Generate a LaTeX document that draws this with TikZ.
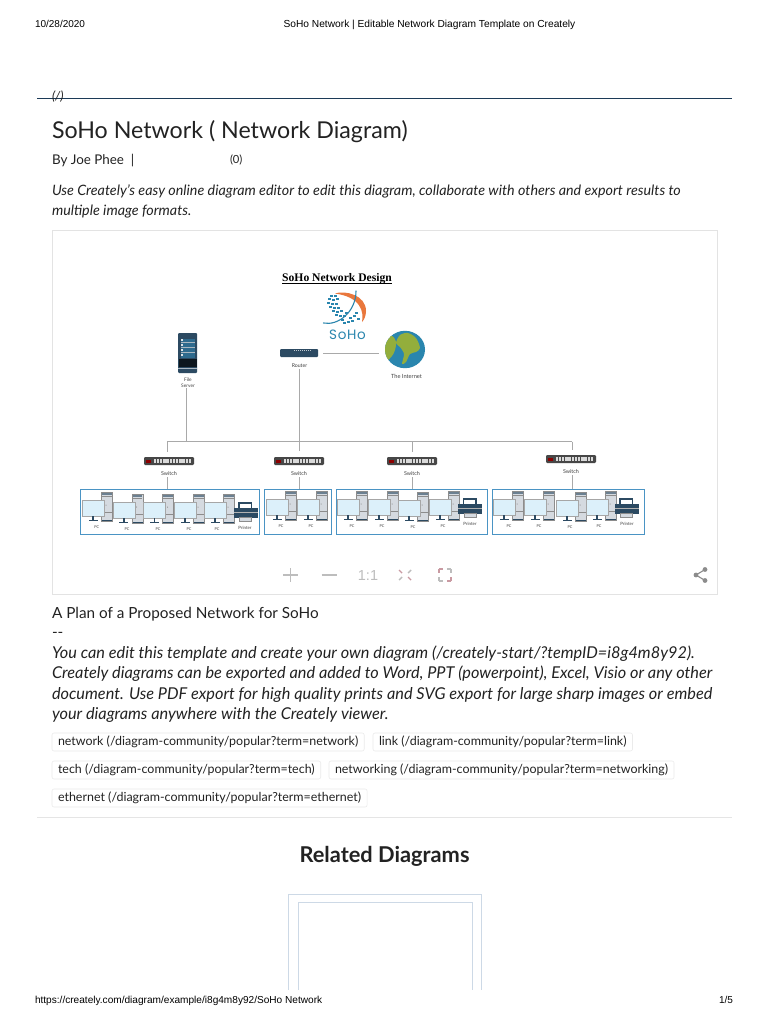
\documentclass[tikz,border=0pt]{standalone}
\usepackage{fontspec}
\setmainfont{Lato}
\newfontfamily\arialfont{Liberation Sans}
\newfontfamily\timesfont{Liberation Serif}
\newfontfamily\logofont{Poppins}
\newcommand{\fs}[1]{\fontsize{#1}{#1}\selectfont}
\definecolor{rulenavy}{HTML}{1C3A57}
\definecolor{framegray}{HTML}{E3E3E3}
\definecolor{linegray}{HTML}{A9A9A9}
\definecolor{boxblue}{HTML}{4A94C4}
\definecolor{screen}{HTML}{DCF0FA}
\definecolor{towergray}{HTML}{D5DAE0}
\definecolor{darkslate}{HTML}{2C4A62}
\definecolor{panelblue}{HTML}{2F6B8E}
\definecolor{toolgray}{HTML}{BDBDBD}
\definecolor{toolred}{HTML}{C99AA2}
\definecolor{relblue}{HTML}{CDD9E6}
\definecolor{textdark}{HTML}{222222}
\definecolor{logoblue}{HTML}{2A86AE}
\definecolor{logoorange}{HTML}{E9773C}
\definecolor{landgreen}{HTML}{93AE3C}
\tikzset{
  every node/.style={inner sep=0pt,outer sep=0pt,text=textdark},
  txt/.style={anchor=base west,align=left},
  hdr/.style={anchor=base,font=\arialfont\fs{10.2},text=black},
  tiny/.style={anchor=base,font=\fs{3.8},text=black!75},
  wire/.style={draw=linegray,line width=0.7pt},
  groupbox/.style={draw=boxblue,line width=0.8pt,fill=white,anchor=north west},
  tagbox/.style={draw=black!8,line width=0.6pt,rounded corners=2pt,anchor=west,minimum height=18pt,font=\fs{12.45},text=textdark,inner xsep=6pt},
  pcunit/.pic={
    \fill[towergray] (19,-8) rectangle (30,21);
    \fill[darkslate!70] (19.5,-7.5) rectangle (29.5,-5.5);
    \fill[black!45] (19.5,-4.5) rectangle (29.5,-3);
    \fill[darkslate] (19,19.5) rectangle (30,21);
    \draw[black!45,line width=0.3pt] (19,12) -- (30,12);
    \draw[black!45,line width=0.3pt] (19,-8) rectangle (30,21);
    \fill[black!55] (24,5) circle (0.5);
    \fill[screen] (0,0) rectangle (22,16);
    \draw[black!35,line width=0.3pt] (0,0) rectangle (22,16);
    \fill[darkslate] (10.2,16) rectangle (11.8,19.5);
    \fill[darkslate] (6.5,19.5) rectangle (15.5,20.5);
  },
  printerunit/.pic={
    \draw[darkslate,line width=1.1pt] (5.5,6) -- (5.5,1) -- (18,1) -- (18,6);
    \fill[darkslate] (0,6) rectangle (24,16);
    \fill[black!30] (0,10) rectangle (24,10.6);
    \draw[black!45,line width=0.4pt,fill=towergray] (6,15.5) rectangle (18,19);
  },
  switchunit/.pic={
    \fill[black!72,rounded corners=1.2pt] (0,0) rectangle (50,8);
    \fill[red!55!black] (1.5,2.5) rectangle (7,5.5);
    \foreach \i in {0,...,11}{\fill[white!85!black] (9.5+\i*3.2,1.8) rectangle (11.9+\i*3.2,6.2);}
  },
}
\begin{document}
\begin{tikzpicture}[x=1pt,y=-1pt]
\useasboundingbox (0,0) rectangle (768,1024);
\fill[white] (0,0) rectangle (768,1024);

% browser header and footer
\node[anchor=base west,font=\arialfont\fs{10},text=black] (date) at (35,27.5) {10/28/2020};
\node[hdr] (pagetitle) at (429.5,27.5) {SoHo Network | Editable Network Diagram Template on Creately};
\node[anchor=base west,font=\arialfont\fs{10.1},text=black] (url) at (35,1003.5) {https://creately.com/diagram/example/i8g4m8y92/SoHo Network};
\node[anchor=base east,font=\arialfont\fs{10},text=black] (pageno) at (733,1003.5) {1/5};

% top of page
\draw[rulenavy,line width=0.8pt] (37,98.5) -- (732,98.5);
\node[txt,font=\itshape\fs{12.5}] (home) at (52,101) {(/)};
\node[txt,font=\fs{23.2}] (title) at (52,139) {SoHo Network ( Network Diagram)};
\node[txt,font=\fs{13.4}] (byline) at (52,165) {By Joe Phee\ \ |};
\node[txt,font=\fs{11.2}] (zero) at (230,164) {(0)};
\node[txt,font=\itshape\fs{14.3}] (introa) at (52,196) {Use Creately’s easy online diagram editor to edit this diagram, collaborate with others and export results to};
\node[txt,font=\itshape\fs{14.3}] (introb) at (52,215) {multiple image formats.};

% viewer frame
\draw[framegray,line width=0.8pt] (52.5,230) rectangle (717,594);

% diagram title
\node[anchor=base,font=\timesfont\bfseries\fs{11.6},text=black] (dtitle) at (337,281) {SoHo Network Design};
\draw[black,line width=0.6pt] (282,283) -- (392,283);

% logo
\fill[logoorange] (335,293.5) .. controls (345,290) and (366,295) .. (366,311) .. controls (366,316) and (364,320) .. (362,322) .. controls (364,312) and (361,297) .. (335,293.5);
\draw[logoblue,line width=1.1pt,line cap=round] (323.5,323) .. controls (338,326) and (356,312) .. (356,291);
\foreach \x/\y in {331/296,335/296,329/299,333/300,337/299,328/303,332/304,336/304,330/307,334/308,338/308,333/311,337/312,341/311,336/315,340/316,344/316,342/320,346/313,350/318,354/316,358/319,352/321,348/322,356/313,344/323}{
  \fill[logoblue] (\x-1.5,\y-1.4) rectangle (\x+1.5,\y+1.4);
}
\node[anchor=base,font=\logofont\fs{13.5},text=logoblue] (logotext) at (347.5,339) {S\kern0.8pt o\kern0.6pt H\kern0.6pt o};

% file server
\node[fill=darkslate,rounded corners=1pt,minimum width=19pt,minimum height=40pt,anchor=north west] (server) at (178,333) {};
\fill[panelblue] (180.5,338.5) rectangle (194.5,358);
\foreach \y in {342.5,347.5,352.5}{\draw[white!60!darkslate,line width=0.4pt] (180.5,\y) -- (194.5,\y);}
\foreach \y in {340,345,350,355}{\fill[white!85!darkslate] (180.8,\y-0.8) rectangle (182.8,\y+0.8);}
\fill[black!70!darkslate] (178.5,359) rectangle (196.5,367);
\fill[white!60!darkslate] (178,367.5) rectangle (197,368.5);
\node[tiny,font=\fs{4.8}] (serverlabela) at (187.8,381) {File};
\node[tiny,font=\fs{4.8}] (serverlabelb) at (188,387) {Server};

% router
\node[fill=darkslate,rounded corners=1pt,minimum width=38pt,minimum height=8pt,anchor=north west] (router) at (280,349) {};
\foreach \i in {0,...,8}{\fill[white!70!darkslate] (294+\i*2,350) rectangle (295+\i*2,351.2);}
\node[tiny,font=\fs{5.2}] (routerlabel) at (299.5,367.3) {Router};

% globe
\begin{scope}
\path[fill=logoblue] (405,349.5) ellipse (20 and 18.7);
\clip (405,349.5) ellipse (20 and 18.7);
\fill[landgreen] plot[smooth cycle] coordinates {(384,340) (392,336) (396,342) (395,350) (392,356) (386,360)};
\fill[landgreen] plot[smooth cycle] coordinates {(400,335) (408,333) (416,338) (420,348) (416,352) (410,354) (406,362) (402,364) (404,354) (400,347) (396,343)};
\end{scope}
\node[tiny,font=\fs{5.7}] (netlabel) at (406.5,378) {The Internet};

% connector anchors
\coordinate (routerout) at (323,353.5);
\coordinate (netin) at (379,353.5);
\coordinate (busl) at (167,441.5);
\coordinate (busr) at (572,441.5);
\coordinate (busserver) at (186.5,441.5);
\coordinate (busrouter) at (299.5,441.5);
\coordinate (bus3) at (412.7,441.5);
\coordinate (drop1) at (167,452);
\coordinate (drop2) at (299.5,451);
\coordinate (drop3) at (412.7,452);
\coordinate (drop4) at (572,450);

\draw[wire] (routerout) -- (netin);
\draw[wire] (routerlabel.south -| busrouter) ++(0,2) -- (busrouter);
\draw[wire] (serverlabelb.south -| busserver) ++(0,1) -- (busserver);
\draw[wire] (busl) -- (busr);
\draw[wire] (busl) -- (drop1);
\draw[wire] (busrouter) -- (drop2);
\draw[wire] (bus3) -- (drop3);
\draw[wire] (busr) -- (drop4);

% switches
\foreach \n/\x/\y/\lx in {1/144/457/169,2/274/457/299,3/387/457/412,4/546/455/571}{
  \pic at (\x,\y) {switchunit};
  \node[tiny,font=\fs{5.4}] (sw\n) at (\lx,\y+18.5) {Switch};
}

% groups
\node[groupbox,minimum width=179pt,minimum height=45pt] (grpa) at (80,489) {};
\node[groupbox,minimum width=67pt,minimum height=45pt] (grpb) at (264,489) {};
\node[groupbox,minimum width=151pt,minimum height=45pt] (grpc) at (336,489) {};
\node[groupbox,minimum width=152pt,minimum height=45pt] (grpd) at (492,489) {};

\draw[wire] (sw1.south -| drop1) ++(0,1.5) -- (grpa.north -| drop1);
\draw[wire] (sw2.south -| drop2) ++(0,1.5) -- (grpb.north -| drop2);
\draw[wire] (sw3.south -| drop3) ++(0,1.5) -- (grpc.north -| drop3);
\draw[wire] (sw4.south -| drop4) ++(0,1.5) -- (grpd.north -| drop4);

% machines
\foreach \x/\y in {82/500,112.7/502,143.5/502,174/502,204/502,266/499,297/499,337/499,368/499,398/500,429/499,493/499,524/499,556/500,586/499}{
  \pic at (\x,\y) {pcunit};
}
\pic at (233.5,502) {printerunit};
\pic at (458,498) {printerunit};
\pic at (614.5,498) {printerunit};

\foreach \n/\x/\y in {a/96.7/528.5,b/127/530.5,c/158/530.5,d/189/530.5,e/217/530.5,f/281/527,g/311/527,h/352/527,i/382/527,j/413/528,k/443/527,l/509/527,m/539/527,n/570/528,o/599/527}{
  \node[tiny] (pc\n) at (\x,\y) {PC};
}
\node[tiny,font=\fs{4.4}] (pra) at (245,529.5) {Printer};
\node[tiny,font=\fs{4.4}] (prb) at (470,525.5) {Printer};
\node[tiny,font=\fs{4.4}] (prc) at (627,525.5) {Printer};

% viewer toolbar
\draw[toolgray,line width=1.3pt] (283,575) -- (298,575) (290.5,568) -- (290.5,582);
\draw[toolgray,line width=1.3pt] (321.5,575) -- (336.5,575);
\node[anchor=base,font=\arialfont\fs{14.5},text=toolgray] (oneone) at (368,580.5) {1:1};
\foreach \a/\b/\c/\d/\col in {399/570/402/573/toolred,411/570/408/573/toolgray,399/580/402/577/toolgray,411/580/408/577/toolred}{
  \draw[\col,line width=1.4pt] (\a,\b) -- (\c,\d);
}
\foreach \a/\b/\c/\d/\col in {439/569/443/569/toolred,451/569/447/569/toolgray,439/581/443/581/toolgray,451/581/447/581/toolred}{
  \draw[\col,line width=1.2pt] (\a,\b) -- (\c,\d);
}
\foreach \a/\b/\c/\d/\col in {439/569/439/573/toolred,451/569/451/573/toolgray,439/581/439/577/toolgray,451/581/451/577/toolred}{
  \draw[\col,line width=1.2pt] (\a,\b) -- (\c,\d);
}
\draw[black!45,line width=1.1pt] (705,569.5) -- (696,575) -- (705,580.5);
\fill[black!45] (705,569.5) circle (2.4) (696,575) circle (2.4) (705,580.5) circle (2.4);

% description
\node[txt,font=\fs{15.3}] (plan) at (52,618) {A Plan of a Proposed Network for SoHo};
\node[txt,font=\fs{15.3}] (dashes) at (52,637) {-{}-};
\node[txt,font=\itshape\fs{16.3}] (paraa) at (52,658) {You can edit this template and create your own diagram (/creately-start/?tempID=i8g4m8y92).};
\node[txt,font=\itshape\fs{16.3}] (parab) at (52,678) {Creately diagrams can be exported and added to Word, PPT (powerpoint), Excel, Visio or any other};
\node[txt,font=\itshape\fs{16.3}] (parac) at (52,699) {document. Use PDF export for high quality prints and SVG export for large sharp images or embed};
\node[txt,font=\itshape\fs{16.3}] (parad) at (52,719) {your diagrams anywhere with the Creately viewer.};

% tags
\node[tagbox] (taga) at (52,742) {network (/diagram-community/popular?term=network)};
\node[tagbox] (tagb) at (373,742) {link (/diagram-community/popular?term=link)};
\node[tagbox] (tagc) at (52,770) {tech (/diagram-community/popular?term=tech)};
\node[tagbox] (tagd) at (329,770) {networking (/diagram-community/popular?term=networking)};
\node[tagbox] (tage) at (52,798) {ethernet (/diagram-community/popular?term=ethernet)};
\draw[black!10,line width=0.8pt] (37,817) -- (732,817);

% related diagrams
\node[anchor=base,font=\bfseries\fs{21.8},text=textdark] (related) at (384.5,862) {Related Diagrams};
\draw[relblue,line width=0.8pt] (288.5,990) -- (288.5,894.5) -- (481.5,894.5) -- (481.5,990);
\draw[relblue,line width=0.7pt] (298.5,990) -- (298.5,902.5) -- (472.5,902.5) -- (472.5,990);
\end{tikzpicture}
\end{document}
